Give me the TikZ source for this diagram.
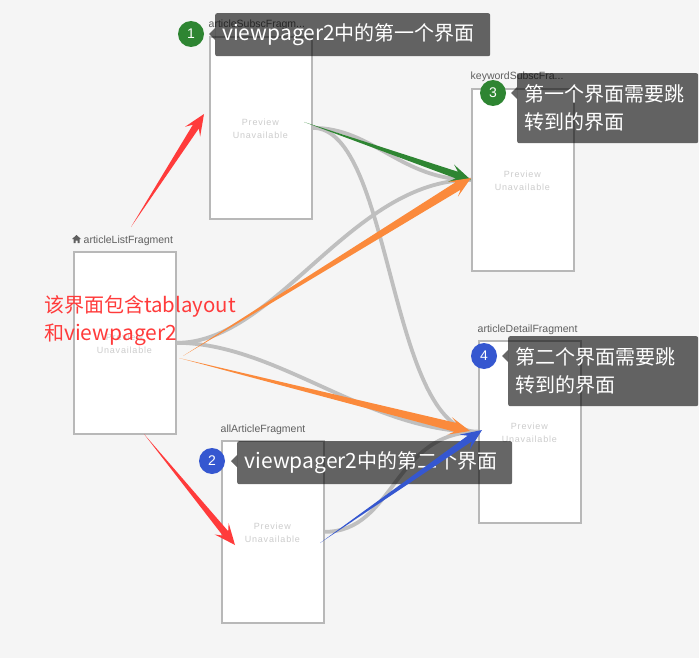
\documentclass[tikz,border=0pt]{standalone}
\usepackage{fontspec}
\usetikzlibrary{calc}
\newfontfamily\cjk{Noto Sans CJK SC}
\newfontfamily\uifont{Liberation Sans}
\newfontfamily\previewfont[LetterSpace=9]{Liberation Sans}
\definecolor{pagebg}{HTML}{F5F5F5}
\definecolor{linkgray}{HTML}{BFBFBF}
\definecolor{framegray}{HTML}{B8B8B8}
\definecolor{labelgray}{HTML}{5F5F5F}
\definecolor{previewgray}{HTML}{CCCCCC}
\definecolor{markred}{HTML}{FF3B3B}
\definecolor{markgreen}{HTML}{2E8532}
\definecolor{markblue}{HTML}{3557D0}
\definecolor{markorange}{HTML}{FB8A3C}
\newcommand{\threedots}{...}
\newcommand{\latin}[1]{{\fontsize{21}{28}\selectfont #1}}
\newcommand{\tipline}[1]{\hspace*{3.5pt}\raisebox{-1pt}{#1}}
\tikzset{
  screen/.style={draw=framegray,line width=1.7pt,fill=white,minimum width=102pt,minimum height=182pt,inner sep=0pt,anchor=north west},
  title/.style={font=\uifont\fontsize{10.5}{12}\selectfont,text=labelgray,inner sep=0pt,anchor=base west},
  preview/.style={font=\previewfont\fontsize{9}{12}\selectfont,text=previewgray,align=center,inner sep=0pt},
  link/.style={draw=linkgray,line width=3.8pt},
  badge/.style={circle,minimum size=26pt,inner sep=0pt,text=white,font=\uifont\fontsize{14}{14}\selectfont},
  tip/.style={fill=black,fill opacity=.6,text opacity=1,text=white,rounded corners=2pt,inner sep=0pt,anchor=north west,
    align=left,font=\cjk\fontsize{20}{28}\selectfont},
  tipmark/.style={fill=black,fill opacity=.6},
  note/.style={font=\cjk\fontsize{20}{28}\selectfont,text=markred,align=left,inner sep=0pt,anchor=north west}
}
% tapered arrow: colour, tail, tip, shaft half width
\newcommand{\fatarrow}[4]{
  \fill[#1] (#2) -- ($(#3)!15pt!(#2)!#4!90:(#2)$) -- ($(#3)!21pt!(#2)!9pt!90:(#2)$) -- (#3)
    -- ($(#3)!21pt!(#2)!9pt!-90:(#2)$) -- ($(#3)!15pt!(#2)!#4!-90:(#2)$) -- cycle;
}
\begin{document}
\begin{tikzpicture}[x=1pt,y=-1pt]
\useasboundingbox (0,0) rectangle (699,658);
\fill[pagebg] (0,0) rectangle (699,658);
% screens
\foreach \id/\x/\y in {list/73/251,subsc/209/36,all/221/440,keyword/471/88,detail/478/340}
  \node[screen] (\id) at (\x,\y) {};
\foreach \id/\name/\dx in {list/articleListFragment/10.5,subsc/articleSubscFragm\threedots/-.5,all/allArticleFragment/-.5,keyword/keywordSubscFra\threedots/-.5,detail/articleDetailFragment/-.5}
  \node[title] (\id title) at ($(\id.north west)+(\dx,-8)$) {\name};
\fill[labelgray] (72,239) -- (76.5,235) -- (81,239) -- (79.5,239) -- (79.5,243) -- (77.5,243) -- (77.5,240.5) -- (75.5,240.5) -- (75.5,243) -- (73.5,243) -- (73.5,239) -- cycle;
% links
\draw[link] (subsc.east) .. controls +(60,0) and +(-70,0) .. (keyword.west);
\draw[link] (subsc.east) .. controls +(80,0) and +(-90,0) .. (detail.west);
\draw[link] (list.east) .. controls +(100,0) and +(-120,0) .. (keyword.west);
\draw[link] (list.east) .. controls +(100,0) and +(-110,0) .. (detail.west);
\draw[link] (all.east) .. controls +(70,0) and +(-85,0) .. (detail.west);
\foreach \id in {list,subsc,all,keyword,detail}
  \node[preview] (\id preview) at ($(\id.center)+(-.5,1)$) {Preview\\[.5pt]Unavailable};
% badges and tips
\node[badge,fill=markgreen] (n1) at (191,34) {1};
\node[badge,fill=markblue] (n2) at (212,461) {2};
\node[badge,fill=markgreen] (n3) at (493,93) {3};
\node[badge,fill=markblue] (n4) at (484,356) {4};
\node[tip,minimum width=275pt,minimum height=43pt,text width=267pt] (t1) at (215,13) {\hspace*{3pt}\latin{viewpager2}中的第一个界面};
\node[tip,minimum width=275pt,minimum height=43pt,text width=267pt] (t2) at (237,441) {\tipline{\latin{viewpager2}中的第二个界面}};
\node[tip,minimum width=181pt,minimum height=70pt,text width=173pt] (t3) at (517,73) {\tipline{第一个界面需要跳}\\\tipline{转到的界面}};
\node[tip,minimum width=190pt,minimum height=70pt,text width=182pt] (t4) at (508,336) {\tipline{第二个界面需要跳}\\\tipline{转到的界面}};
\foreach \i in {1,2,3,4}
  \fill[tipmark] (t\i.west |- n\i) ++(0,-6) -- ++(-6,6) -- ++(6,6) -- cycle;
% marks
\coordinate (red1 tail) at (131,227);
\coordinate (red1 tip) at (204,114);
\coordinate (red2 tail) at (144,434);
\coordinate (red2 tip) at (235,545);
\coordinate (green tail) at (304,122);
\coordinate (green tip) at (471,180);
\coordinate (orange1 tail) at (183,356);
\coordinate (orange1 tip) at (471,178);
\coordinate (orange2 tail) at (179,358);
\coordinate (orange2 tip) at (470,431);
\coordinate (blue tail) at (320,543);
\coordinate (blue tip) at (482,430);
\fatarrow{markred}{red1 tail}{red1 tip}{3.5pt}
\fatarrow{markred}{red2 tail}{red2 tip}{3.5pt}
\fatarrow{markgreen}{green tail}{green tip}{3.5pt}
\fatarrow{markorange}{orange1 tail}{orange1 tip}{4.5pt}
\fatarrow{markorange}{orange2 tail}{orange2 tip}{4.5pt}
\fatarrow{markblue}{blue tail}{blue tip}{3.5pt}
\node[note] (listnote) at (44,295) {该界面包含{\fontsize{20.4}{28}\selectfont tablayout}\\和\latin{viewpager2}};
\end{tikzpicture}
\end{document}
